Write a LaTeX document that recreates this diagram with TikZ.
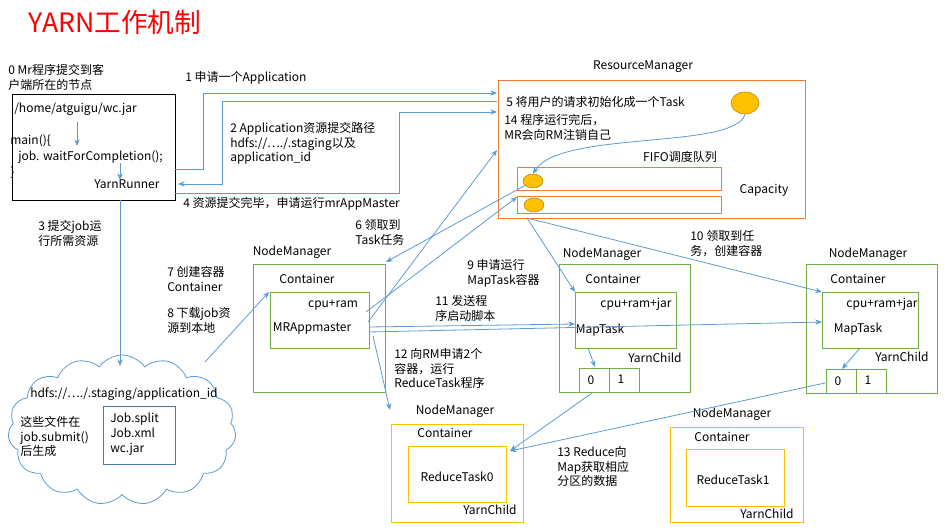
\documentclass[tikz,border=0pt]{standalone}
\usepackage{fontspec}
\setmainfont{Noto Sans CJK SC}
\usetikzlibrary{arrows.meta,shapes.symbols,shapes.geometric}
\definecolor{arr}{HTML}{5B9BD5}
\definecolor{rmc}{HTML}{ED7D31}
\definecolor{nmc}{HTML}{70AD47}
\definecolor{yc}{HTML}{FFC000}
\tikzset{
  t/.style={font=\fontsize{9}{11}\selectfont,inner sep=0pt,align=left},
  tl/.style={t,anchor=north west},
  a/.style={draw=arr,line width=0.6pt,-{Stealth[length=5pt,width=4pt]}},
  bx/.style={draw,line width=0.7pt},
  egg/.style={fill=yc,draw=yc!70!black,line width=0.4pt}
}
\begin{document}
\begin{tikzpicture}[x=0.75pt,y=-0.75pt]
\useasboundingbox (0,0) rectangle (945,530);
% title
\node[t,anchor=west,text=red,font=\fontsize{20}{22}\selectfont] (title) at (28,22) {YARN工作机制};
% client
\node[tl] (l0) at (8,64) {0 Mr程序提交到客\\户端所在的节点};
\draw[bx] (12,94) rectangle (175,200);
\node[t,anchor=west] (jar) at (14,109) {/home/atguigu/wc.jar};
\node[tl,font=\fontsize{9}{12}\selectfont] (main) at (10,134) {main()\{\\\ \ \ job. waitForCompletion();\\\}};
\node[t] (yr) at (127,184) {YarnRunner};
\coordinate (c1) at (77,122); \coordinate (c2) at (77,146);
\coordinate (c3) at (120,163); \coordinate (c4) at (120,180);
\draw[a] (c1) -- (c2);
\draw[a] (c3) -- (c4);
% RM
\draw[bx,draw=rmc] (498,80) rectangle (805,218);
\node[t] (rm) at (643,67) {ResourceManager};
\node[t,anchor=west] (l5) at (506,102) {5 将用户的请求初始化成一个Task};
\node[tl] (l14) at (504,114) {14 程序运行完后，\\MR会向RM注销自己};
\node[t] (fifo) at (680,157) {FIFO调度队列};
\node[t] (cap) at (764,190) {Capacity};
\draw[bx,draw=rmc] (517,167) rectangle (721,190);
\draw[bx,draw=rmc] (517,196) rectangle (721,213);
\node[egg,ellipse,minimum width=28*0.75pt,minimum height=22*0.75pt,inner sep=0pt] (big) at (745,103) {};
\node[egg,ellipse,minimum width=20*0.75pt,minimum height=14*0.75pt,inner sep=0pt] (q1) at (533,181) {};
\node[egg,ellipse,minimum width=20*0.75pt,minimum height=14*0.75pt,inner sep=0pt] (q2) at (534,205) {};
\draw[a] (big.south) .. controls (735,150) and (560,130) .. (q1.north);
% client <-> RM
\coordinate (p1a) at (175,169); \coordinate (p1b) at (203,169); \coordinate (p1c) at (203,93); \coordinate (p1d) at (497,93);
\draw[a] (p1a) -- (p1b) -- (p1c) -- (p1d);
\node[t,anchor=west] (l1) at (185,78) {1 申请一个Application};
\coordinate (p2a) at (497,101); \coordinate (p2b) at (222,101); \coordinate (p2c) at (222,184); \coordinate (p2d) at (178,184);
\draw[a] (p2a) -- (p2b) -- (p2c) -- (p2d);
\node[tl] (l2) at (230,122) {2 Application资源提交路径\\hdfs://…./.staging以及\\application\_id};
\coordinate (p4a) at (175,193); \coordinate (p4b) at (399,193); \coordinate (p4c) at (399,112); \coordinate (p4d) at (497,112);
\draw[a] (p4a) -- (p4b) -- (p4c) -- (p4d);
\node[t,anchor=west] (l4) at (183,204) {4 资源提交完毕，申请运行mrAppMaster};
% NM1
\draw[bx,draw=nmc] (253,264) rectangle (385,392);
\node[t] (nm1) at (292,252) {NodeManager};
\node[t] (ct1) at (307,279) {Container};
\draw[bx,draw=nmc] (270,292) rectangle (369,348);
\node[t] (cr1) at (333,305) {cpu+ram};
\node[t] (mr) at (312,328) {MRAppmaster};
% NM2
\draw[bx,draw=nmc] (559,264) rectangle (690,392);
\node[t] (nm2) at (602,254) {NodeManager};
\node[t] (ct2) at (613,279) {Container};
\draw[bx,draw=nmc] (575,292) rectangle (676,348);
\node[t] (cr2) at (636,304) {cpu+ram+jar};
\node[t] (mt1) at (600,330) {MapTask};
\node[t] (yc2) at (655,358) {YarnChild};
\draw[bx,draw=nmc] (579,368) rectangle (609,392);
\draw[bx,draw=nmc] (609,368) rectangle (639,392);
\node[t] (z1) at (591,380) {0};
\node[t] (o1) at (621,379) {1};
% NM3
\draw[bx,draw=nmc] (806,264) rectangle (937,393);
\node[t] (nm3) at (868,254) {NodeManager};
\node[t] (ct3) at (858,279) {Container};
\draw[bx,draw=nmc] (822,292) rectangle (918,348);
\node[t] (cr3) at (882,304) {cpu+ram+jar};
\node[t] (mt2) at (858,329) {MapTask};
\node[t] (yc3) at (902,357) {YarnChild};
\draw[bx,draw=nmc] (826,369) rectangle (856,393);
\draw[bx,draw=nmc] (856,369) rectangle (886,393);
\node[t] (z2) at (838,381) {0};
\node[t] (o2) at (868,380) {1};
% NM4
\draw[bx,draw=yc] (391,424) rectangle (523,522);
\node[t] (nm4) at (455,411) {NodeManager};
\node[t] (ct4) at (445,433) {Container};
\draw[bx,draw=yc] (408,446) rectangle (506,502);
\node[t] (rt0) at (457,477) {ReduceTask0};
\node[t] (yc4) at (490,510) {YarnChild};
% NM5
\draw[bx,draw=yc] (670,427) rectangle (803,522);
\node[t] (nm5) at (732,414) {NodeManager};
\node[t] (ct5) at (722,437) {Container};
\draw[bx,draw=yc] (686,449) rectangle (784,506);
\node[t] (rt1) at (733,480) {ReduceTask1};
\node[t] (yc5) at (767,514) {YarnChild};
% cloud
\node[cloud,draw=arr,line width=0.6pt,cloud puffs=15,cloud puff arc=110,aspect=1.6,minimum width=228*0.75pt,minimum height=150*0.75pt] (cl) at (122,430) {};
\node[t,anchor=west] (hd) at (30,394) {hdfs://…./.staging/application\_id};
\node[tl] (gen) at (20,416) {这些文件在\\job.submit()\\后生成};
\draw[bx,draw=arr!80!black] (103,406) rectangle (175,464);
\node[tl] (files) at (110,413) {Job.split\\Job.xml\\wc.jar};
% labels
\node[tl] (l3) at (38,220) {3 提交job运\\行所需资源};
\node[tl] (l6) at (355,219) {6 领取到\\Task任务};
\node[tl] (l7) at (167,266) {7 创建容器\\Container};
\node[tl] (l8) at (167,307) {8 下载job资\\源到本地};
\node[tl] (l9) at (467,259) {9 申请运行\\MapTask容器};
\node[tl] (l10) at (690,230) {10 领取到任\\务，创建容器};
\node[tl] (l11) at (435,295) {11 发送程\\序启动脚本};
\node[tl] (l12) at (394,348) {12 向RM申请2个\\容器，运行\\ReduceTask程序};
\node[tl] (l13) at (557,446) {13 Reduce向\\Map获取相应\\分区的数据};
% connectors
\coordinate (y0) at (120,200); \coordinate (y1) at (120,366);
\draw[a] (y0) -- (y1);
\coordinate (cl1) at (205,362); \coordinate (mrl) at (269,292);
\draw[a] (cl1) -- (mrl);
\coordinate (mra) at (368,322); \coordinate (rm14) at (497,150);
\draw[a] (mra) -- (rm14);
\coordinate (mrb) at (366,312); \coordinate (rmq) at (517,197);
\draw[a] (mrb) -- (rmq);
\coordinate (nm1tr) at (386,262);
\draw[a] (q1) -- (nm1tr);
\coordinate (rmb) at (527,218); \coordinate (mt1tl) at (575,292); \coordinate (mt2tl) at (822,292);
\draw[a] (rmb) -- (mt1tl);
\draw[a] (rmb) -- (mt2tl);
\coordinate (mrc) at (369,327); \coordinate (mt1l) at (575,324); \coordinate (mt2l) at (822,322);
\draw[a] (mrc) -- (mt1l);
\coordinate (mrd) at (369,332);
\draw[a] (mrd) -- (mt2l);
\coordinate (mre) at (373,336); \coordinate (rd0) at (390,410);
\draw[a] (mre) -- (rd0);
\coordinate (mt1b) at (588,348); \coordinate (cell1) at (595,367);
\draw[a] (mt1b) -- (cell1);
\coordinate (mt2b) at (860,348); \coordinate (cell2) at (842,369);
\draw[a] (mt2b) -- (cell2);
\coordinate (cb1) at (592,393); \coordinate (cb2) at (825,383); \coordinate (rt0r) at (510,451);
\draw[a] (cb1) -- (rt0r);
\draw[a] (cb2) -- (rt0r);
\end{tikzpicture}
\end{document}
